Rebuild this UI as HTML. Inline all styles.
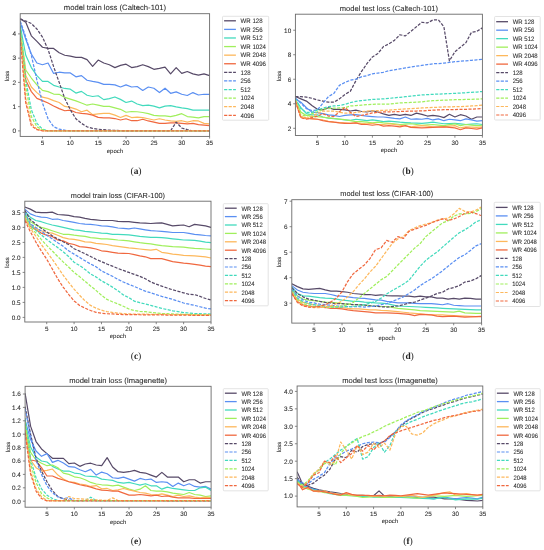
<!DOCTYPE html><html><head><meta charset="utf-8"><style>html,body{margin:0;padding:0;background:#fff;width:544px;height:550px;overflow:hidden}svg{display:block;will-change:transform}text{text-rendering:geometricPrecision;font-family:"Liberation Sans",sans-serif;fill:#2a2a2a;stroke:#2a2a2a;stroke-width:0.07px}text.cap{font-family:"Liberation Serif",serif;stroke:none;fill:#222}</style></head><body>
<svg width="544" height="550" viewBox="0 0 544 550">
<rect width="544" height="550" fill="#fff"/>
<clipPath id="clipa"><rect x="20.20" y="13.70" width="189.40" height="122.70"/></clipPath>
<g clip-path="url(#clipa)" fill="none" stroke-linejoin="round">
<polyline points="20.20,18.87 25.77,22.26 31.34,35.84 36.91,41.42 42.48,47.24 48.05,48.45 53.62,48.45 59.19,52.81 64.76,55.24 70.34,56.21 75.91,57.42 81.48,57.42 87.05,59.61 92.62,66.39 98.19,60.09 103.76,63.00 109.33,64.70 114.90,67.61 120.47,65.42 126.04,64.21 131.61,67.61 137.18,66.64 142.75,64.70 148.32,66.64 153.89,69.31 159.46,68.34 165.04,67.12 170.61,73.91 176.18,67.61 181.75,73.43 187.32,71.49 192.89,73.91 198.46,75.12 204.03,73.91 209.60,75.61" stroke="#574a68" stroke-width="1.20"/>
<polyline points="20.20,22.26 25.77,39.24 31.34,54.03 36.91,63.00 42.48,64.70 48.05,63.00 53.62,73.43 59.19,72.22 64.76,72.94 70.34,72.94 75.91,76.82 81.48,75.61 87.05,80.22 92.62,81.43 98.19,82.40 103.76,84.34 109.33,84.34 114.90,84.83 120.47,87.01 126.04,84.83 131.61,87.01 137.18,86.52 142.75,90.40 148.32,87.01 153.89,88.22 159.46,92.59 165.04,88.22 170.61,93.31 176.18,91.86 181.75,94.28 187.32,95.50 192.89,92.59 198.46,95.01 204.03,94.28 209.60,94.28" stroke="#5a8ff2" stroke-width="1.20"/>
<polyline points="20.20,25.66 25.77,55.24 31.34,67.61 36.91,75.61 42.48,81.43 48.05,81.43 53.62,85.31 59.19,87.01 64.76,88.46 70.34,89.19 75.91,93.07 81.48,91.37 87.05,95.25 92.62,96.47 98.19,95.74 103.76,99.62 109.33,98.65 114.90,96.95 120.47,99.38 126.04,102.53 131.61,101.07 137.18,103.98 142.75,105.68 148.32,105.20 153.89,106.17 159.46,107.86 165.04,106.17 170.61,105.68 176.18,106.89 181.75,107.86 187.32,108.59 192.89,110.05 198.46,110.05 204.03,110.05 209.60,110.05" stroke="#42dabd" stroke-width="1.20"/>
<polyline points="20.20,29.05 25.77,70.03 31.34,78.03 36.91,84.83 42.48,90.40 48.05,91.62 53.62,94.04 59.19,94.28 64.76,97.44 70.34,99.13 75.91,100.83 81.48,103.01 87.05,105.20 92.62,103.98 98.19,105.20 103.76,106.41 109.33,106.41 114.90,107.86 120.47,109.32 126.04,112.23 131.61,111.50 137.18,111.74 142.75,112.47 148.32,113.68 153.89,115.38 159.46,115.87 165.04,115.87 170.61,116.59 176.18,115.38 181.75,113.68 187.32,116.59 192.89,117.08 198.46,117.81 204.03,116.59 209.60,116.59" stroke="#a0ef5c" stroke-width="1.20"/>
<polyline points="20.20,31.48 25.77,75.61 31.34,87.01 36.91,92.59 42.48,97.19 48.05,98.41 53.62,100.59 59.19,102.53 64.76,106.41 70.34,107.38 75.91,109.08 81.48,111.74 87.05,110.17 92.62,114.65 98.19,113.93 103.76,113.44 109.33,113.44 114.90,115.14 120.47,117.56 126.04,115.38 131.61,117.56 137.18,117.08 142.75,117.56 148.32,118.78 153.89,119.99 159.46,118.78 165.04,119.99 170.61,120.96 176.18,121.44 181.75,120.72 187.32,122.17 192.89,120.72 198.46,120.96 204.03,123.38 209.60,123.87" stroke="#fdb85c" stroke-width="1.20"/>
<polyline points="20.20,37.05 25.77,80.22 31.34,91.62 36.91,98.41 42.48,100.59 48.05,103.01 53.62,105.92 59.19,108.59 64.76,110.77 70.34,110.17 75.91,112.47 81.48,113.44 87.05,113.93 92.62,115.14 98.19,117.32 103.76,117.81 109.33,117.81 114.90,118.53 120.47,119.99 126.04,118.78 131.61,120.72 137.18,120.72 142.75,119.26 148.32,120.96 153.89,122.17 159.46,123.38 165.04,123.38 170.61,122.90 176.18,122.90 181.75,123.38 187.32,123.87 192.89,123.38 198.46,124.59 204.03,125.08 209.60,125.57" stroke="#f0683f" stroke-width="1.20"/>
<polyline points="20.20,18.87 25.77,21.05 31.34,23.47 36.91,29.05 42.48,37.05 48.05,49.42 53.62,66.64 59.19,82.40 64.76,98.41 70.34,109.80 75.91,118.78 81.48,123.38 87.05,126.78 92.62,128.47 98.19,129.20 103.76,129.69 109.33,130.17 114.90,130.39 120.47,130.61 126.04,130.83 131.61,130.83 137.18,130.83 142.75,130.83 148.32,130.83 153.89,130.83 159.46,130.83 165.04,130.83 170.61,130.83 176.18,122.17 181.75,127.99 187.32,129.69 192.89,130.83 198.46,130.83 204.03,130.83 209.60,130.83" stroke="#574a68" stroke-width="1.25" stroke-dasharray="3.1 1.4"/>
<polyline points="20.20,21.05 25.77,37.05 31.34,55.24 36.91,80.22 42.48,103.01 48.05,118.78 53.62,126.78 59.19,129.20 64.76,130.17 70.34,130.83 75.91,130.83 81.48,130.83 87.05,130.83 92.62,130.83 98.19,130.83 103.76,130.83 109.33,130.83 114.90,130.83 120.47,130.83 126.04,130.83 131.61,130.83 137.18,130.83 142.75,130.83 148.32,130.83 153.89,130.83 159.46,130.83 165.04,130.83 170.61,130.83 176.18,130.83 181.75,130.83 187.32,130.83 192.89,130.83 198.46,130.83 204.03,130.83 209.60,130.83" stroke="#5a8ff2" stroke-width="1.25" stroke-dasharray="3.1 1.4"/>
<polyline points="20.20,25.66 25.77,80.22 31.34,109.80 36.91,123.38 42.48,129.20 48.05,130.83 53.62,130.83 59.19,130.83 64.76,130.83 70.34,130.83 75.91,130.83 81.48,130.83 87.05,130.83 92.62,130.83 98.19,130.83 103.76,130.83 109.33,130.83 114.90,130.83 120.47,130.83 126.04,130.83 131.61,130.83 137.18,130.83 142.75,130.83 148.32,130.83 153.89,130.83 159.46,130.83 165.04,130.83 170.61,130.83 176.18,130.83 181.75,130.83 187.32,130.83 192.89,130.83 198.46,130.83 204.03,130.83 209.60,130.83" stroke="#42dabd" stroke-width="1.25" stroke-dasharray="3.1 1.4"/>
<polyline points="20.20,30.26 25.77,87.01 31.34,116.59 36.91,126.78 42.48,129.69 48.05,130.83 53.62,130.83 59.19,130.83 64.76,130.83 70.34,130.83 75.91,130.83 81.48,130.83 87.05,130.83 92.62,130.83 98.19,130.83 103.76,130.83 109.33,130.83 114.90,130.83 120.47,130.83 126.04,130.83 131.61,130.83 137.18,130.83 142.75,130.83 148.32,130.83 153.89,130.83 159.46,130.83 165.04,130.83 170.61,130.83 176.18,130.83 181.75,130.83 187.32,130.83 192.89,130.83 198.46,130.83 204.03,130.83 209.60,130.83" stroke="#a0ef5c" stroke-width="1.25" stroke-dasharray="3.1 1.4"/>
<polyline points="20.20,34.87 25.77,98.41 31.34,123.38 36.91,129.20 42.48,130.83 48.05,130.83 53.62,130.83 59.19,130.83 64.76,130.83 70.34,130.83 75.91,130.83 81.48,130.83 87.05,130.83 92.62,130.83 98.19,130.83 103.76,130.83 109.33,130.83 114.90,130.83 120.47,130.83 126.04,130.83 131.61,130.83 137.18,130.83 142.75,130.83 148.32,130.83 153.89,130.83 159.46,130.83 165.04,130.83 170.61,130.83 176.18,130.83 181.75,130.83 187.32,130.83 192.89,130.83 198.46,130.83 204.03,130.83 209.60,130.83" stroke="#fdb85c" stroke-width="1.25" stroke-dasharray="3.1 1.4"/>
<polyline points="20.20,38.27 25.77,103.01 31.34,125.57 36.91,129.69 42.48,130.83 48.05,130.83 53.62,130.83 59.19,130.83 64.76,130.83 70.34,130.83 75.91,130.83 81.48,130.83 87.05,130.83 92.62,130.83 98.19,130.83 103.76,130.83 109.33,130.83 114.90,130.83 120.47,130.83 126.04,130.83 131.61,130.83 137.18,130.83 142.75,130.83 148.32,130.83 153.89,130.83 159.46,130.83 165.04,130.83 170.61,130.83 176.18,130.83 181.75,130.83 187.32,130.83 192.89,130.83 198.46,130.83 204.03,130.83 209.60,130.83" stroke="#f0683f" stroke-width="1.25" stroke-dasharray="3.1 1.4"/>
</g>
<rect x="20.20" y="13.70" width="189.40" height="122.70" fill="none" stroke="#6a6a6a" stroke-width="0.90"/>
<line x1="42.48" y1="136.40" x2="42.48" y2="138.60" stroke="#6a6a6a" stroke-width="0.8"/>
<text x="42.48" y="145.40" font-size="6.30" text-anchor="middle">5</text>
<line x1="70.34" y1="136.40" x2="70.34" y2="138.60" stroke="#6a6a6a" stroke-width="0.8"/>
<text x="70.34" y="145.40" font-size="6.30" text-anchor="middle">10</text>
<line x1="98.19" y1="136.40" x2="98.19" y2="138.60" stroke="#6a6a6a" stroke-width="0.8"/>
<text x="98.19" y="145.40" font-size="6.30" text-anchor="middle">15</text>
<line x1="126.04" y1="136.40" x2="126.04" y2="138.60" stroke="#6a6a6a" stroke-width="0.8"/>
<text x="126.04" y="145.40" font-size="6.30" text-anchor="middle">20</text>
<line x1="153.89" y1="136.40" x2="153.89" y2="138.60" stroke="#6a6a6a" stroke-width="0.8"/>
<text x="153.89" y="145.40" font-size="6.30" text-anchor="middle">25</text>
<line x1="181.75" y1="136.40" x2="181.75" y2="138.60" stroke="#6a6a6a" stroke-width="0.8"/>
<text x="181.75" y="145.40" font-size="6.30" text-anchor="middle">30</text>
<line x1="209.60" y1="136.40" x2="209.60" y2="138.60" stroke="#6a6a6a" stroke-width="0.8"/>
<text x="209.60" y="145.40" font-size="6.30" text-anchor="middle">35</text>
<line x1="18.00" y1="130.90" x2="20.20" y2="130.90" stroke="#6a6a6a" stroke-width="0.8"/>
<text x="16.00" y="133.20" font-size="6.40" text-anchor="end">0</text>
<line x1="18.00" y1="106.65" x2="20.20" y2="106.65" stroke="#6a6a6a" stroke-width="0.8"/>
<text x="16.00" y="108.95" font-size="6.40" text-anchor="end">1</text>
<line x1="18.00" y1="82.40" x2="20.20" y2="82.40" stroke="#6a6a6a" stroke-width="0.8"/>
<text x="16.00" y="84.70" font-size="6.40" text-anchor="end">2</text>
<line x1="18.00" y1="58.15" x2="20.20" y2="58.15" stroke="#6a6a6a" stroke-width="0.8"/>
<text x="16.00" y="60.45" font-size="6.40" text-anchor="end">3</text>
<line x1="18.00" y1="33.90" x2="20.20" y2="33.90" stroke="#6a6a6a" stroke-width="0.8"/>
<text x="16.00" y="36.20" font-size="6.40" text-anchor="end">4</text>
<text x="114.90" y="152.80" font-size="6.00" text-anchor="middle">epoch</text>
<text transform="translate(7.30 76.00) rotate(-90)" x="0" y="2.10" font-size="5.90" text-anchor="middle">loss</text>
<text x="114.90" y="10.30" font-size="7.66" text-anchor="middle">model train loss (Caltech-101)</text>
<rect x="222.50" y="16.30" width="46.20" height="103.90" rx="0.8" fill="#fff" stroke="#dcdcdc" stroke-width="0.8"/>
<line x1="224.10" y1="20.80" x2="235.90" y2="20.80" stroke="#574a68" stroke-width="1.30"/>
<text transform="translate(240.60 23.10) scale(0.930 1)" font-size="6.55">WR 128</text>
<line x1="224.10" y1="29.39" x2="235.90" y2="29.39" stroke="#5a8ff2" stroke-width="1.30"/>
<text transform="translate(240.60 31.69) scale(0.930 1)" font-size="6.55">WR 256</text>
<line x1="224.10" y1="37.98" x2="235.90" y2="37.98" stroke="#42dabd" stroke-width="1.30"/>
<text transform="translate(240.60 40.28) scale(0.930 1)" font-size="6.55">WR 512</text>
<line x1="224.10" y1="46.57" x2="235.90" y2="46.57" stroke="#a0ef5c" stroke-width="1.30"/>
<text transform="translate(240.60 48.87) scale(0.930 1)" font-size="6.55">WR 1024</text>
<line x1="224.10" y1="55.16" x2="235.90" y2="55.16" stroke="#fdb85c" stroke-width="1.30"/>
<text transform="translate(240.60 57.46) scale(0.930 1)" font-size="6.55">WR 2048</text>
<line x1="224.10" y1="63.75" x2="235.90" y2="63.75" stroke="#f0683f" stroke-width="1.30"/>
<text transform="translate(240.60 66.05) scale(0.930 1)" font-size="6.55">WR 4096</text>
<line x1="224.10" y1="72.35" x2="235.90" y2="72.35" stroke="#574a68" stroke-width="1.20" stroke-dasharray="3.2 1.3"/>
<text transform="translate(240.60 74.65) scale(0.930 1)" font-size="6.55">128</text>
<line x1="224.10" y1="80.94" x2="235.90" y2="80.94" stroke="#5a8ff2" stroke-width="1.20" stroke-dasharray="3.2 1.3"/>
<text transform="translate(240.60 83.24) scale(0.930 1)" font-size="6.55">256</text>
<line x1="224.10" y1="89.53" x2="235.90" y2="89.53" stroke="#42dabd" stroke-width="1.20" stroke-dasharray="3.2 1.3"/>
<text transform="translate(240.60 91.83) scale(0.930 1)" font-size="6.55">512</text>
<line x1="224.10" y1="98.12" x2="235.90" y2="98.12" stroke="#a0ef5c" stroke-width="1.20" stroke-dasharray="3.2 1.3"/>
<text transform="translate(240.60 100.42) scale(0.930 1)" font-size="6.55">1024</text>
<line x1="224.10" y1="106.71" x2="235.90" y2="106.71" stroke="#fdb85c" stroke-width="1.20" stroke-dasharray="3.2 1.3"/>
<text transform="translate(240.60 109.01) scale(0.930 1)" font-size="6.55">2048</text>
<line x1="224.10" y1="115.30" x2="235.90" y2="115.30" stroke="#f0683f" stroke-width="1.20" stroke-dasharray="3.2 1.3"/>
<text transform="translate(240.60 117.60) scale(0.930 1)" font-size="6.55">4096</text>
<text class="cap" x="136.00" y="173.50" font-size="9.80" text-anchor="middle">(<tspan font-weight="bold" font-size="9.40">a</tspan>)</text>
<clipPath id="clipb"><rect x="295.40" y="14.20" width="187.00" height="121.30"/></clipPath>
<g clip-path="url(#clipb)" fill="none" stroke-linejoin="round">
<polyline points="295.40,96.55 300.90,98.88 306.40,101.08 311.90,105.50 317.40,109.30 322.90,109.91 328.40,107.70 333.90,109.30 339.40,109.30 344.90,109.91 350.40,111.01 355.90,110.16 361.40,111.50 366.90,111.99 372.40,110.77 377.90,111.99 383.40,113.83 388.90,115.43 394.40,114.32 399.90,115.43 405.40,114.32 410.90,115.43 416.40,113.10 421.90,114.32 427.40,116.04 432.90,115.43 438.40,116.04 443.90,117.63 449.40,114.32 454.90,117.02 460.40,114.69 465.90,116.04 471.40,119.23 476.90,117.02 482.40,117.02" stroke="#574a68" stroke-width="1.20"/>
<polyline points="295.40,98.88 300.90,102.19 306.40,107.70 311.90,112.12 317.40,112.61 322.90,113.71 328.40,114.81 333.90,115.43 339.40,116.53 344.90,115.43 350.40,114.81 355.90,114.69 361.40,115.43 366.90,116.04 372.40,116.53 377.90,117.02 383.40,117.02 388.90,117.63 394.40,118.37 399.90,118.86 405.40,117.02 410.90,119.23 416.40,118.86 421.90,119.23 427.40,118.37 432.90,119.96 438.40,118.86 443.90,120.70 449.40,119.23 454.90,119.96 460.40,120.70 465.90,118.86 471.40,119.96 476.90,121.07 482.40,120.70" stroke="#5a8ff2" stroke-width="1.20"/>
<polyline points="295.40,99.98 300.90,107.70 306.40,113.71 311.90,114.81 317.40,114.81 322.90,117.02 328.40,118.12 333.90,118.61 339.40,119.23 344.90,119.84 350.40,120.33 355.90,119.23 361.40,119.96 366.90,120.70 372.40,119.96 377.90,120.70 383.40,121.56 388.90,121.07 394.40,121.62 399.90,122.17 405.40,122.54 410.90,122.91 416.40,123.15 421.90,123.40 427.40,122.78 432.90,122.17 438.40,122.97 443.90,123.76 449.40,123.58 454.90,123.40 460.40,123.95 465.90,124.50 471.40,124.13 476.90,123.76 482.40,124.50" stroke="#42dabd" stroke-width="1.20"/>
<polyline points="295.40,100.47 300.90,112.12 306.40,115.43 311.90,116.29 317.40,116.65 322.90,117.27 328.40,117.88 333.90,118.49 339.40,119.11 344.90,119.72 350.40,120.70 355.90,121.56 361.40,121.56 366.90,122.17 372.40,122.91 377.90,122.17 383.40,122.91 388.90,123.40 394.40,123.95 399.90,124.50 405.40,124.13 410.90,123.76 416.40,124.50 421.90,125.24 427.40,124.87 432.90,124.50 438.40,125.05 443.90,125.60 449.40,124.68 454.90,123.76 460.40,125.60 465.90,124.50 471.40,125.05 476.90,125.60 482.40,125.24" stroke="#a0ef5c" stroke-width="1.20"/>
<polyline points="295.40,100.59 300.90,116.65 306.40,117.88 311.90,118.49 317.40,119.23 322.90,119.96 328.40,121.43 333.90,122.17 339.40,122.54 344.90,122.91 350.40,123.40 355.90,122.91 361.40,123.40 366.90,123.76 372.40,123.40 377.90,124.50 383.40,124.50 388.90,123.76 394.40,124.50 399.90,125.24 405.40,126.03 410.90,126.83 416.40,126.22 421.90,125.60 427.40,126.22 432.90,126.83 438.40,126.83 443.90,126.83 449.40,126.22 454.90,125.60 460.40,127.93 465.90,126.83 471.40,127.14 476.90,127.44 482.40,126.83" stroke="#fdb85c" stroke-width="1.20"/>
<polyline points="295.40,101.08 300.90,117.27 306.40,118.49 311.90,118.86 317.40,119.23 322.90,120.70 328.40,121.56 333.90,122.17 339.40,122.91 344.90,123.40 350.40,123.40 355.90,122.91 361.40,124.50 366.90,124.50 372.40,125.24 377.90,124.50 383.40,126.09 388.90,125.60 394.40,126.22 399.90,126.83 405.40,125.60 410.90,127.44 416.40,127.69 421.90,127.93 427.40,127.69 432.90,127.44 438.40,127.14 443.90,126.83 449.40,127.38 454.90,127.93 460.40,129.77 465.90,127.93 471.40,128.48 476.90,129.04 482.40,127.93" stroke="#f0683f" stroke-width="1.20"/>
<polyline points="295.40,96.55 300.90,96.67 306.40,97.16 311.90,98.26 317.40,99.98 322.90,101.08 328.40,102.19 333.90,102.19 339.40,98.88 344.90,94.46 350.40,91.15 355.90,80.73 361.40,71.66 366.90,63.69 372.40,56.95 377.90,53.51 383.40,46.65 388.90,43.83 394.40,40.40 399.90,34.76 405.40,35.86 410.90,31.32 416.40,26.79 421.90,22.25 427.40,22.99 432.90,19.92 438.40,19.92 443.90,26.79 449.40,60.87 454.90,51.80 460.40,47.26 465.90,42.73 471.40,32.43 476.90,31.32 482.40,27.89" stroke="#574a68" stroke-width="1.25" stroke-dasharray="3.1 1.4"/>
<polyline points="295.40,98.26 300.90,103.17 306.40,108.68 311.90,110.52 317.40,109.91 322.90,103.17 328.40,96.67 333.90,93.36 339.40,85.39 344.90,82.45 350.40,80.24 355.90,79.14 361.40,76.81 366.90,75.70 372.40,73.87 377.90,73.01 383.40,72.27 388.90,70.68 394.40,69.76 399.90,68.84 405.40,67.92 410.90,67.00 416.40,66.20 421.90,65.41 427.40,64.61 432.90,63.81 438.40,63.51 443.90,63.20 449.40,62.40 454.90,61.61 460.40,61.24 465.90,60.87 471.40,60.32 476.90,59.77 482.40,59.28" stroke="#5a8ff2" stroke-width="1.25" stroke-dasharray="3.1 1.4"/>
<polyline points="295.40,98.88 300.90,108.68 306.40,112.36 311.90,112.36 317.40,109.91 322.90,108.07 328.40,106.60 333.90,105.99 339.40,105.50 344.90,104.39 350.40,102.68 355.90,101.33 361.40,100.59 366.90,100.10 372.40,99.49 377.90,99.12 383.40,98.88 388.90,98.39 394.40,97.83 399.90,97.28 405.40,96.73 410.90,96.18 416.40,95.57 421.90,94.95 427.40,94.65 432.90,94.34 438.40,94.09 443.90,93.85 449.40,93.60 454.90,93.36 460.40,93.05 465.90,92.75 471.40,92.38 476.90,92.01 482.40,91.52" stroke="#42dabd" stroke-width="1.25" stroke-dasharray="3.1 1.4"/>
<polyline points="295.40,99.49 300.90,114.81 306.40,116.04 311.90,113.71 317.40,111.75 322.90,109.30 328.40,108.68 333.90,108.19 339.40,107.95 344.90,107.70 350.40,105.99 355.90,105.62 361.40,105.13 366.90,104.64 372.40,104.39 377.90,104.15 383.40,104.03 388.90,104.03 394.40,103.47 399.90,102.92 405.40,102.68 410.90,102.43 416.40,102.12 421.90,101.82 427.40,101.21 432.90,100.59 438.40,100.41 443.90,100.22 449.40,99.98 454.90,99.73 460.40,99.61 465.90,99.49 471.40,99.31 476.90,99.12 482.40,98.88" stroke="#a0ef5c" stroke-width="1.25" stroke-dasharray="3.1 1.4"/>
<polyline points="295.40,100.10 300.90,116.65 306.40,118.49 311.90,116.04 317.40,113.59 322.90,111.01 328.40,111.01 333.90,111.01 339.40,112.36 344.90,113.22 350.40,113.22 355.90,112.36 361.40,111.75 366.90,111.14 372.40,110.77 377.90,110.52 383.40,110.40 388.90,110.16 394.40,109.73 399.90,109.30 405.40,108.99 410.90,108.68 416.40,108.32 421.90,107.95 427.40,107.70 432.90,107.46 438.40,107.21 443.90,106.97 449.40,106.85 454.90,106.72 460.40,106.54 465.90,106.35 471.40,105.99 476.90,105.62 482.40,105.13" stroke="#fdb85c" stroke-width="1.25" stroke-dasharray="3.1 1.4"/>
<polyline points="295.40,101.33 300.90,117.88 306.40,119.23 311.90,117.63 317.40,116.04 322.90,113.71 328.40,116.04 333.90,116.53 339.40,111.75 344.90,107.46 350.40,112.36 355.90,116.41 361.40,115.43 366.90,114.20 372.40,112.98 377.90,112.36 383.40,111.99 388.90,111.99 394.40,111.75 399.90,111.50 405.40,111.32 410.90,111.14 416.40,111.01 421.90,110.89 427.40,110.52 432.90,110.16 438.40,109.91 443.90,109.66 449.40,109.60 454.90,109.54 460.40,109.42 465.90,109.30 471.40,109.11 476.90,108.93 482.40,108.56" stroke="#f0683f" stroke-width="1.25" stroke-dasharray="3.1 1.4"/>
</g>
<rect x="295.40" y="14.20" width="187.00" height="121.30" fill="none" stroke="#6a6a6a" stroke-width="0.90"/>
<line x1="317.40" y1="135.50" x2="317.40" y2="137.70" stroke="#6a6a6a" stroke-width="0.8"/>
<text x="317.40" y="144.50" font-size="6.30" text-anchor="middle">5</text>
<line x1="344.90" y1="135.50" x2="344.90" y2="137.70" stroke="#6a6a6a" stroke-width="0.8"/>
<text x="344.90" y="144.50" font-size="6.30" text-anchor="middle">10</text>
<line x1="372.40" y1="135.50" x2="372.40" y2="137.70" stroke="#6a6a6a" stroke-width="0.8"/>
<text x="372.40" y="144.50" font-size="6.30" text-anchor="middle">15</text>
<line x1="399.90" y1="135.50" x2="399.90" y2="137.70" stroke="#6a6a6a" stroke-width="0.8"/>
<text x="399.90" y="144.50" font-size="6.30" text-anchor="middle">20</text>
<line x1="427.40" y1="135.50" x2="427.40" y2="137.70" stroke="#6a6a6a" stroke-width="0.8"/>
<text x="427.40" y="144.50" font-size="6.30" text-anchor="middle">25</text>
<line x1="454.90" y1="135.50" x2="454.90" y2="137.70" stroke="#6a6a6a" stroke-width="0.8"/>
<text x="454.90" y="144.50" font-size="6.30" text-anchor="middle">30</text>
<line x1="482.40" y1="135.50" x2="482.40" y2="137.70" stroke="#6a6a6a" stroke-width="0.8"/>
<text x="482.40" y="144.50" font-size="6.30" text-anchor="middle">35</text>
<line x1="293.20" y1="128.30" x2="295.40" y2="128.30" stroke="#6a6a6a" stroke-width="0.8"/>
<text x="291.20" y="130.60" font-size="6.40" text-anchor="end">2</text>
<line x1="293.20" y1="103.78" x2="295.40" y2="103.78" stroke="#6a6a6a" stroke-width="0.8"/>
<text x="291.20" y="106.08" font-size="6.40" text-anchor="end">4</text>
<line x1="293.20" y1="79.26" x2="295.40" y2="79.26" stroke="#6a6a6a" stroke-width="0.8"/>
<text x="291.20" y="81.56" font-size="6.40" text-anchor="end">6</text>
<line x1="293.20" y1="54.74" x2="295.40" y2="54.74" stroke="#6a6a6a" stroke-width="0.8"/>
<text x="291.20" y="57.04" font-size="6.40" text-anchor="end">8</text>
<line x1="293.20" y1="30.22" x2="295.40" y2="30.22" stroke="#6a6a6a" stroke-width="0.8"/>
<text x="291.20" y="32.52" font-size="6.40" text-anchor="end">10</text>
<text x="388.90" y="151.90" font-size="6.00" text-anchor="middle">epoch</text>
<text transform="translate(279.10 76.00) rotate(-90)" x="0" y="2.10" font-size="5.90" text-anchor="middle">loss</text>
<text x="388.90" y="10.80" font-size="7.57" text-anchor="middle">model test loss (Caltech-101)</text>
<rect x="494.60" y="16.50" width="45.60" height="103.50" rx="0.8" fill="#fff" stroke="#dcdcdc" stroke-width="0.8"/>
<line x1="496.20" y1="21.70" x2="508.00" y2="21.70" stroke="#574a68" stroke-width="1.30"/>
<text transform="translate(512.70 24.00) scale(0.930 1)" font-size="6.45">WR 128</text>
<line x1="496.20" y1="30.18" x2="508.00" y2="30.18" stroke="#5a8ff2" stroke-width="1.30"/>
<text transform="translate(512.70 32.48) scale(0.930 1)" font-size="6.45">WR 256</text>
<line x1="496.20" y1="38.66" x2="508.00" y2="38.66" stroke="#42dabd" stroke-width="1.30"/>
<text transform="translate(512.70 40.96) scale(0.930 1)" font-size="6.45">WR 512</text>
<line x1="496.20" y1="47.15" x2="508.00" y2="47.15" stroke="#a0ef5c" stroke-width="1.30"/>
<text transform="translate(512.70 49.45) scale(0.930 1)" font-size="6.45">WR 1024</text>
<line x1="496.20" y1="55.63" x2="508.00" y2="55.63" stroke="#fdb85c" stroke-width="1.30"/>
<text transform="translate(512.70 57.93) scale(0.930 1)" font-size="6.45">WR 2048</text>
<line x1="496.20" y1="64.11" x2="508.00" y2="64.11" stroke="#f0683f" stroke-width="1.30"/>
<text transform="translate(512.70 66.41) scale(0.930 1)" font-size="6.45">WR 4096</text>
<line x1="496.20" y1="72.59" x2="508.00" y2="72.59" stroke="#574a68" stroke-width="1.20" stroke-dasharray="3.2 1.3"/>
<text transform="translate(512.70 74.89) scale(0.930 1)" font-size="6.45">128</text>
<line x1="496.20" y1="81.07" x2="508.00" y2="81.07" stroke="#5a8ff2" stroke-width="1.20" stroke-dasharray="3.2 1.3"/>
<text transform="translate(512.70 83.37) scale(0.930 1)" font-size="6.45">256</text>
<line x1="496.20" y1="89.55" x2="508.00" y2="89.55" stroke="#42dabd" stroke-width="1.20" stroke-dasharray="3.2 1.3"/>
<text transform="translate(512.70 91.85) scale(0.930 1)" font-size="6.45">512</text>
<line x1="496.20" y1="98.04" x2="508.00" y2="98.04" stroke="#a0ef5c" stroke-width="1.20" stroke-dasharray="3.2 1.3"/>
<text transform="translate(512.70 100.34) scale(0.930 1)" font-size="6.45">1024</text>
<line x1="496.20" y1="106.52" x2="508.00" y2="106.52" stroke="#fdb85c" stroke-width="1.20" stroke-dasharray="3.2 1.3"/>
<text transform="translate(512.70 108.82) scale(0.930 1)" font-size="6.45">2048</text>
<line x1="496.20" y1="115.00" x2="508.00" y2="115.00" stroke="#f0683f" stroke-width="1.20" stroke-dasharray="3.2 1.3"/>
<text transform="translate(512.70 117.30) scale(0.930 1)" font-size="6.45">4096</text>
<text class="cap" x="408.00" y="173.50" font-size="9.80" text-anchor="middle">(<tspan font-weight="bold" font-size="9.40">b</tspan>)</text>
<clipPath id="clipc"><rect x="24.80" y="201.20" width="186.20" height="120.80"/></clipPath>
<g clip-path="url(#clipc)" fill="none" stroke-linejoin="round">
<polyline points="24.80,207.00 30.28,209.10 35.75,212.10 41.23,212.70 46.71,212.70 52.18,212.10 57.66,214.50 63.14,214.80 68.61,215.40 74.09,216.60 79.56,217.20 85.04,218.40 90.52,219.30 95.99,219.90 101.47,220.50 106.95,220.50 112.42,220.50 117.90,221.40 123.38,221.55 128.85,221.70 134.33,222.30 139.81,222.90 145.28,223.20 150.76,223.50 156.24,223.20 161.71,222.90 167.19,224.40 172.66,225.90 178.14,225.45 183.62,225.00 189.09,226.80 194.57,224.40 200.05,225.15 205.52,225.90 211.00,227.40" stroke="#574a68" stroke-width="1.20"/>
<polyline points="24.80,209.10 30.28,213.90 35.75,216.00 41.23,217.20 46.71,217.50 52.18,219.30 57.66,219.00 63.14,220.50 68.61,221.40 74.09,222.30 79.56,223.50 85.04,224.10 90.52,224.40 95.99,225.00 101.47,225.90 106.95,226.20 112.42,226.80 117.90,228.00 123.38,228.45 128.85,228.90 134.33,228.00 139.81,228.90 145.28,229.80 150.76,230.70 156.24,231.00 161.71,231.30 167.19,231.90 172.66,232.50 178.14,232.50 183.62,232.50 189.09,233.40 194.57,234.30 200.05,234.90 205.52,235.50 211.00,235.80" stroke="#5a8ff2" stroke-width="1.20"/>
<polyline points="24.80,211.50 30.28,217.20 35.75,220.50 41.23,221.70 46.71,223.50 52.18,225.00 57.66,226.20 63.14,227.40 68.61,228.60 74.09,229.80 79.56,230.40 85.04,231.30 90.52,231.90 95.99,232.50 101.47,233.10 106.95,233.40 112.42,234.30 117.90,234.30 123.38,234.60 128.85,234.90 134.33,235.65 139.81,236.40 145.28,236.85 150.76,237.30 156.24,237.45 161.71,237.60 167.19,238.20 172.66,238.80 178.14,239.40 183.62,240.00 189.09,240.15 194.57,240.30 200.05,241.20 205.52,242.10 211.00,242.70" stroke="#42dabd" stroke-width="1.20"/>
<polyline points="24.80,213.90 30.28,221.40 35.75,225.00 41.23,227.40 46.71,228.90 52.18,230.70 57.66,232.50 63.14,234.30 68.61,234.30 74.09,235.20 79.56,235.80 85.04,236.40 90.52,237.60 95.99,238.20 101.47,238.80 106.95,238.80 112.42,239.40 117.90,240.00 123.38,240.45 128.85,240.90 134.33,241.80 139.81,242.70 145.28,243.30 150.76,243.90 156.24,244.80 161.71,245.70 167.19,246.15 172.66,246.60 178.14,246.90 183.62,247.20 189.09,247.80 194.57,248.40 200.05,248.70 205.52,249.00 211.00,249.30" stroke="#a0ef5c" stroke-width="1.20"/>
<polyline points="24.80,217.20 30.28,224.10 35.75,228.60 41.23,230.70 46.71,232.50 52.18,233.10 57.66,235.20 63.14,237.60 68.61,238.80 74.09,239.40 79.56,240.30 85.04,241.80 90.52,242.10 95.99,243.30 101.47,243.90 106.95,244.50 112.42,245.70 117.90,246.30 123.38,247.05 128.85,247.80 134.33,248.40 139.81,249.00 145.28,249.60 150.76,250.20 156.24,249.30 161.71,252.30 167.19,253.20 172.66,254.10 178.14,254.70 183.62,255.30 189.09,255.60 194.57,255.90 200.05,256.35 205.52,256.80 211.00,258.00" stroke="#fdb85c" stroke-width="1.20"/>
<polyline points="24.80,220.50 30.28,226.20 35.75,229.80 41.23,233.10 46.71,235.20 52.18,236.40 57.66,240.00 63.14,240.90 68.61,243.30 74.09,244.50 79.56,246.60 85.04,247.20 90.52,247.80 95.99,249.00 101.47,250.80 106.95,251.40 112.42,252.30 117.90,253.20 123.38,253.35 128.85,253.50 134.33,254.70 139.81,255.90 145.28,256.80 150.76,258.60 156.24,258.60 161.71,258.60 167.19,260.10 172.66,261.60 178.14,262.35 183.62,263.10 189.09,263.70 194.57,264.30 200.05,265.20 205.52,266.10 211.00,266.70" stroke="#f0683f" stroke-width="1.20"/>
<polyline points="24.80,210.30 30.28,219.60 35.75,224.10 41.23,228.30 46.71,231.90 52.18,235.80 57.66,238.80 63.14,241.80 68.61,244.50 74.09,248.70 79.56,251.10 85.04,253.80 90.52,256.50 95.99,259.20 101.47,261.60 106.95,264.00 112.42,266.10 117.90,268.50 123.38,270.45 128.85,272.40 134.33,274.35 139.81,276.30 145.28,278.70 150.76,282.00 156.24,284.10 161.71,286.20 167.19,288.00 172.66,289.80 178.14,291.30 183.62,292.80 189.09,294.30 194.57,294.60 200.05,296.40 205.52,298.50 211.00,300.00" stroke="#574a68" stroke-width="1.25" stroke-dasharray="3.1 1.4"/>
<polyline points="24.80,212.70 30.28,223.80 35.75,227.40 41.23,231.00 46.71,235.20 52.18,238.80 57.66,242.70 63.14,246.30 68.61,250.80 74.09,254.10 79.56,257.40 85.04,260.70 90.52,264.00 95.99,266.70 101.47,270.90 106.95,273.60 112.42,276.30 117.90,279.30 123.38,282.00 128.85,284.40 134.33,286.50 139.81,288.90 145.28,291.15 150.76,292.80 156.24,294.60 161.71,296.40 167.19,297.90 172.66,299.40 178.14,301.20 183.62,303.00 189.09,304.20 194.57,305.40 200.05,306.75 205.52,308.10 211.00,309.00" stroke="#5a8ff2" stroke-width="1.25" stroke-dasharray="3.1 1.4"/>
<polyline points="24.80,214.80 30.28,225.00 35.75,230.10 41.23,234.90 46.71,239.40 52.18,243.60 57.66,247.50 63.14,251.70 68.61,256.50 74.09,262.20 79.56,265.50 85.04,269.40 90.52,273.90 95.99,276.90 101.47,280.80 106.95,283.80 112.42,287.10 117.90,290.70 123.38,294.90 128.85,297.60 134.33,301.20 139.81,302.70 145.28,303.90 150.76,305.40 156.24,306.90 161.71,308.40 167.19,309.60 172.66,310.80 178.14,311.70 183.62,312.60 189.09,313.05 194.57,313.50 200.05,313.70 205.52,313.90 211.00,314.10" stroke="#42dabd" stroke-width="1.25" stroke-dasharray="3.1 1.4"/>
<polyline points="24.80,216.00 30.28,227.40 35.75,232.80 41.23,239.40 46.71,245.40 52.18,250.80 57.66,256.50 63.14,261.90 68.61,267.00 74.09,272.40 79.56,276.60 85.04,281.40 90.52,285.90 95.99,290.40 101.47,295.20 106.95,299.40 112.42,301.80 117.90,303.90 123.38,306.30 128.85,309.00 134.33,310.50 139.81,311.40 145.28,311.70 150.76,312.30 156.24,312.90 161.71,313.50 167.19,313.72 172.66,313.95 178.14,314.17 183.62,314.40 189.09,314.46 194.57,314.52 200.05,314.58 205.52,314.64 211.00,314.70" stroke="#a0ef5c" stroke-width="1.25" stroke-dasharray="3.1 1.4"/>
<polyline points="24.80,218.40 30.28,228.30 35.75,236.10 41.23,244.50 46.71,251.70 52.18,259.20 57.66,267.00 63.14,275.10 68.61,282.30 74.09,289.20 79.56,295.20 85.04,300.90 90.52,305.40 95.99,308.10 101.47,310.20 106.95,311.70 112.42,312.45 117.90,313.05 123.38,313.65 128.85,313.88 134.33,314.10 139.81,314.16 145.28,314.23 150.76,314.29 156.24,314.36 161.71,314.42 167.19,314.49 172.66,314.55 178.14,314.61 183.62,314.68 189.09,314.74 194.57,314.81 200.05,314.87 205.52,314.94 211.00,315.00" stroke="#fdb85c" stroke-width="1.25" stroke-dasharray="3.1 1.4"/>
<polyline points="24.80,220.50 30.28,231.60 35.75,241.80 41.23,250.80 46.71,259.20 52.18,268.80 57.66,278.70 63.14,287.10 68.61,294.30 74.09,300.90 79.56,305.40 85.04,308.10 90.52,310.50 95.99,312.30 101.47,313.20 106.95,313.65 112.42,313.96 117.90,314.27 123.38,314.58 128.85,314.64 134.33,314.69 139.81,314.75 145.28,314.80 150.76,314.86 156.24,314.92 161.71,314.97 167.19,315.03 172.66,315.09 178.14,315.14 183.62,315.20 189.09,315.25 194.57,315.31 200.05,315.37 205.52,315.42 211.00,315.48" stroke="#f0683f" stroke-width="1.25" stroke-dasharray="3.1 1.4"/>
</g>
<rect x="24.80" y="201.20" width="186.20" height="120.80" fill="none" stroke="#6a6a6a" stroke-width="0.90"/>
<line x1="46.71" y1="322.00" x2="46.71" y2="324.20" stroke="#6a6a6a" stroke-width="0.8"/>
<text x="46.71" y="331.00" font-size="6.30" text-anchor="middle">5</text>
<line x1="74.09" y1="322.00" x2="74.09" y2="324.20" stroke="#6a6a6a" stroke-width="0.8"/>
<text x="74.09" y="331.00" font-size="6.30" text-anchor="middle">10</text>
<line x1="101.47" y1="322.00" x2="101.47" y2="324.20" stroke="#6a6a6a" stroke-width="0.8"/>
<text x="101.47" y="331.00" font-size="6.30" text-anchor="middle">15</text>
<line x1="128.85" y1="322.00" x2="128.85" y2="324.20" stroke="#6a6a6a" stroke-width="0.8"/>
<text x="128.85" y="331.00" font-size="6.30" text-anchor="middle">20</text>
<line x1="156.24" y1="322.00" x2="156.24" y2="324.20" stroke="#6a6a6a" stroke-width="0.8"/>
<text x="156.24" y="331.00" font-size="6.30" text-anchor="middle">25</text>
<line x1="183.62" y1="322.00" x2="183.62" y2="324.20" stroke="#6a6a6a" stroke-width="0.8"/>
<text x="183.62" y="331.00" font-size="6.30" text-anchor="middle">30</text>
<line x1="211.00" y1="322.00" x2="211.00" y2="324.20" stroke="#6a6a6a" stroke-width="0.8"/>
<text x="211.00" y="331.00" font-size="6.30" text-anchor="middle">35</text>
<line x1="22.60" y1="317.40" x2="24.80" y2="317.40" stroke="#6a6a6a" stroke-width="0.8"/>
<text x="20.60" y="319.70" font-size="6.40" text-anchor="end">0.0</text>
<line x1="22.60" y1="302.40" x2="24.80" y2="302.40" stroke="#6a6a6a" stroke-width="0.8"/>
<text x="20.60" y="304.70" font-size="6.40" text-anchor="end">0.5</text>
<line x1="22.60" y1="287.40" x2="24.80" y2="287.40" stroke="#6a6a6a" stroke-width="0.8"/>
<text x="20.60" y="289.70" font-size="6.40" text-anchor="end">1.0</text>
<line x1="22.60" y1="272.40" x2="24.80" y2="272.40" stroke="#6a6a6a" stroke-width="0.8"/>
<text x="20.60" y="274.70" font-size="6.40" text-anchor="end">1.5</text>
<line x1="22.60" y1="257.40" x2="24.80" y2="257.40" stroke="#6a6a6a" stroke-width="0.8"/>
<text x="20.60" y="259.70" font-size="6.40" text-anchor="end">2.0</text>
<line x1="22.60" y1="242.40" x2="24.80" y2="242.40" stroke="#6a6a6a" stroke-width="0.8"/>
<text x="20.60" y="244.70" font-size="6.40" text-anchor="end">2.5</text>
<line x1="22.60" y1="227.40" x2="24.80" y2="227.40" stroke="#6a6a6a" stroke-width="0.8"/>
<text x="20.60" y="229.70" font-size="6.40" text-anchor="end">3.0</text>
<line x1="22.60" y1="212.40" x2="24.80" y2="212.40" stroke="#6a6a6a" stroke-width="0.8"/>
<text x="20.60" y="214.70" font-size="6.40" text-anchor="end">3.5</text>
<text x="117.90" y="338.40" font-size="6.00" text-anchor="middle">epoch</text>
<text transform="translate(7.10 262.50) rotate(-90)" x="0" y="2.10" font-size="5.90" text-anchor="middle">loss</text>
<text x="117.90" y="197.80" font-size="7.30" text-anchor="middle">model train loss (CIFAR-100)</text>
<rect x="223.30" y="203.70" width="44.90" height="102.10" rx="0.8" fill="#fff" stroke="#dcdcdc" stroke-width="0.8"/>
<line x1="224.90" y1="208.20" x2="236.70" y2="208.20" stroke="#574a68" stroke-width="1.30"/>
<text transform="translate(241.40 210.50) scale(0.930 1)" font-size="6.34">WR 128</text>
<line x1="224.90" y1="216.60" x2="236.70" y2="216.60" stroke="#5a8ff2" stroke-width="1.30"/>
<text transform="translate(241.40 218.90) scale(0.930 1)" font-size="6.34">WR 256</text>
<line x1="224.90" y1="225.00" x2="236.70" y2="225.00" stroke="#42dabd" stroke-width="1.30"/>
<text transform="translate(241.40 227.30) scale(0.930 1)" font-size="6.34">WR 512</text>
<line x1="224.90" y1="233.40" x2="236.70" y2="233.40" stroke="#a0ef5c" stroke-width="1.30"/>
<text transform="translate(241.40 235.70) scale(0.930 1)" font-size="6.34">WR 1024</text>
<line x1="224.90" y1="241.80" x2="236.70" y2="241.80" stroke="#fdb85c" stroke-width="1.30"/>
<text transform="translate(241.40 244.10) scale(0.930 1)" font-size="6.34">WR 2048</text>
<line x1="224.90" y1="250.20" x2="236.70" y2="250.20" stroke="#f0683f" stroke-width="1.30"/>
<text transform="translate(241.40 252.50) scale(0.930 1)" font-size="6.34">WR 4096</text>
<line x1="224.90" y1="258.60" x2="236.70" y2="258.60" stroke="#574a68" stroke-width="1.20" stroke-dasharray="3.2 1.3"/>
<text transform="translate(241.40 260.90) scale(0.930 1)" font-size="6.34">128</text>
<line x1="224.90" y1="267.00" x2="236.70" y2="267.00" stroke="#5a8ff2" stroke-width="1.20" stroke-dasharray="3.2 1.3"/>
<text transform="translate(241.40 269.30) scale(0.930 1)" font-size="6.34">256</text>
<line x1="224.90" y1="275.40" x2="236.70" y2="275.40" stroke="#42dabd" stroke-width="1.20" stroke-dasharray="3.2 1.3"/>
<text transform="translate(241.40 277.70) scale(0.930 1)" font-size="6.34">512</text>
<line x1="224.90" y1="283.80" x2="236.70" y2="283.80" stroke="#a0ef5c" stroke-width="1.20" stroke-dasharray="3.2 1.3"/>
<text transform="translate(241.40 286.10) scale(0.930 1)" font-size="6.34">1024</text>
<line x1="224.90" y1="292.20" x2="236.70" y2="292.20" stroke="#fdb85c" stroke-width="1.20" stroke-dasharray="3.2 1.3"/>
<text transform="translate(241.40 294.50) scale(0.930 1)" font-size="6.34">2048</text>
<line x1="224.90" y1="300.60" x2="236.70" y2="300.60" stroke="#f0683f" stroke-width="1.20" stroke-dasharray="3.2 1.3"/>
<text transform="translate(241.40 302.90) scale(0.930 1)" font-size="6.34">4096</text>
<text class="cap" x="136.00" y="358.80" font-size="9.80" text-anchor="middle">(<tspan font-weight="bold" font-size="9.40">c</tspan>)</text>
<clipPath id="clipd"><rect x="291.80" y="199.70" width="189.80" height="123.40"/></clipPath>
<g clip-path="url(#clipd)" fill="none" stroke-linejoin="round">
<polyline points="291.80,283.82 297.38,286.62 302.96,288.92 308.55,289.43 314.13,288.92 319.71,288.41 325.29,289.94 330.88,291.21 336.46,291.21 342.04,291.72 347.62,292.24 353.21,293.51 358.79,294.02 364.37,294.53 369.95,294.53 375.54,295.29 381.12,294.78 386.70,295.55 392.28,295.81 397.86,295.81 403.45,296.06 409.03,296.06 414.61,296.82 420.19,296.06 425.78,296.82 431.36,296.82 436.94,298.10 442.52,298.10 448.11,299.12 453.69,298.36 459.27,299.12 464.85,298.10 470.44,298.36 476.02,299.12 481.60,299.12" stroke="#574a68" stroke-width="1.20"/>
<polyline points="291.80,285.61 297.38,289.94 302.96,292.24 308.55,293.00 314.13,293.51 319.71,293.51 325.29,293.51 330.88,294.53 336.46,295.81 342.04,296.06 347.62,296.82 353.21,297.59 358.79,298.10 364.37,298.36 369.95,299.12 375.54,299.88 381.12,300.14 386.70,301.42 392.28,302.18 397.86,302.94 403.45,302.94 409.03,302.94 414.61,303.33 420.19,303.71 425.78,303.71 431.36,303.71 436.94,304.22 442.52,304.73 448.11,303.71 453.69,305.24 459.27,305.62 464.85,306.00 470.44,306.00 476.02,306.00 481.60,306.00" stroke="#5a8ff2" stroke-width="1.20"/>
<polyline points="291.80,287.13 297.38,293.51 302.96,295.81 308.55,296.06 314.13,296.82 319.71,297.59 325.29,298.10 330.88,298.36 336.46,299.12 342.04,300.14 347.62,300.65 353.21,301.42 358.79,301.42 364.37,302.18 369.95,302.44 375.54,302.94 381.12,303.20 386.70,303.71 392.28,304.86 397.86,306.00 403.45,306.26 409.03,306.51 414.61,306.77 420.19,307.02 425.78,307.28 431.36,307.53 436.94,307.92 442.52,308.30 448.11,308.56 453.69,308.81 459.27,309.06 464.85,309.32 470.44,309.57 476.02,309.83 481.60,309.83" stroke="#42dabd" stroke-width="1.20"/>
<polyline points="291.80,288.92 297.38,295.81 302.96,299.12 308.55,300.14 314.13,300.65 319.71,301.42 325.29,302.18 330.88,302.44 336.46,302.94 342.04,303.71 347.62,304.22 353.21,304.73 358.79,304.73 364.37,305.24 369.95,306.00 375.54,306.00 381.12,306.51 386.70,306.51 392.28,307.41 397.86,308.30 403.45,308.81 409.03,309.32 414.61,309.96 420.19,310.59 425.78,310.85 431.36,311.11 436.94,311.36 442.52,311.62 448.11,311.87 453.69,312.12 459.27,311.11 464.85,312.89 470.44,313.14 476.02,313.40 481.60,313.40" stroke="#a0ef5c" stroke-width="1.20"/>
<polyline points="291.80,291.21 297.38,299.12 302.96,302.44 308.55,303.71 314.13,304.73 319.71,305.24 325.29,306.00 330.88,306.51 336.46,307.02 342.04,307.53 347.62,308.30 353.21,308.81 358.79,308.81 364.37,309.32 369.95,309.83 375.54,309.83 381.12,310.34 386.70,310.59 392.28,311.11 397.86,311.62 403.45,312.25 409.03,312.89 414.61,313.40 420.19,313.91 425.78,314.42 431.36,314.93 436.94,314.93 442.52,314.93 448.11,315.31 453.69,315.69 459.27,315.95 464.85,316.20 470.44,316.46 476.02,316.71 481.60,316.20" stroke="#fdb85c" stroke-width="1.20"/>
<polyline points="291.80,293.51 297.38,301.42 302.96,304.73 308.55,306.00 314.13,306.51 319.71,307.02 325.29,307.53 330.88,308.30 336.46,308.30 342.04,308.81 347.62,309.83 353.21,310.59 358.79,311.11 364.37,311.62 369.95,312.12 375.54,312.89 381.12,312.89 386.70,312.89 392.28,313.14 397.86,313.40 403.45,313.91 409.03,314.42 414.61,315.69 420.19,314.42 425.78,314.68 431.36,314.93 436.94,316.20 442.52,316.71 448.11,316.46 453.69,316.20 459.27,316.71 464.85,317.22 470.44,316.97 476.02,316.71 481.60,316.71" stroke="#f0683f" stroke-width="1.20"/>
<polyline points="291.80,287.64 297.38,293.51 302.96,296.82 308.55,299.12 314.13,300.14 319.71,301.42 325.29,302.44 330.88,302.94 336.46,303.71 342.04,303.71 347.62,304.22 353.21,304.73 358.79,304.73 364.37,304.98 369.95,305.75 375.54,306.26 381.12,306.77 386.70,307.02 392.28,306.51 397.86,306.00 403.45,304.73 409.03,302.94 414.61,302.18 420.19,300.14 425.78,298.10 431.36,296.06 436.94,293.51 442.52,292.24 448.11,288.92 453.69,287.64 459.27,285.61 464.85,282.03 470.44,281.01 476.02,278.72 481.60,275.40" stroke="#574a68" stroke-width="1.25" stroke-dasharray="3.1 1.4"/>
<polyline points="291.80,288.92 297.38,295.81 302.96,299.88 308.55,302.18 314.13,302.94 319.71,304.22 325.29,304.73 330.88,305.24 336.46,306.00 342.04,306.00 347.62,306.51 353.21,306.51 358.79,306.51 364.37,307.02 369.95,306.51 375.54,306.00 381.12,304.73 386.70,303.71 392.28,301.42 397.86,299.12 403.45,296.82 409.03,293.51 414.61,289.94 420.19,285.61 425.78,282.03 431.36,278.72 436.94,274.89 442.52,270.81 448.11,266.22 453.69,261.63 459.27,257.56 464.85,254.75 470.44,250.41 476.02,245.82 481.60,243.53" stroke="#5a8ff2" stroke-width="1.25" stroke-dasharray="3.1 1.4"/>
<polyline points="291.80,289.94 297.38,298.10 302.96,301.42 308.55,303.71 314.13,304.73 319.71,306.00 325.29,306.51 330.88,307.02 336.46,307.02 342.04,307.02 347.62,306.51 353.21,306.51 358.79,306.00 364.37,304.73 369.95,303.20 375.54,301.42 381.12,298.10 386.70,294.02 392.28,290.45 397.86,287.39 403.45,284.07 409.03,280.25 414.61,273.11 420.19,266.22 425.78,260.36 431.36,256.02 436.94,252.20 442.52,247.10 448.11,242.25 453.69,237.41 459.27,232.82 464.85,229.76 470.44,226.19 476.02,221.85 481.60,219.56" stroke="#42dabd" stroke-width="1.25" stroke-dasharray="3.1 1.4"/>
<polyline points="291.80,291.21 297.38,300.14 302.96,303.71 308.55,305.24 314.13,306.51 319.71,307.02 325.29,307.02 330.88,307.02 336.46,306.51 342.04,306.00 347.62,304.73 353.21,302.44 358.79,298.10 364.37,293.51 369.95,288.92 375.54,284.33 381.12,279.74 386.70,276.43 392.28,270.81 397.86,264.95 403.45,259.34 409.03,253.73 414.61,248.12 420.19,243.53 425.78,236.64 431.36,232.06 436.94,227.46 442.52,222.88 448.11,220.83 453.69,216.25 459.27,213.95 464.85,213.95 470.44,213.44 476.02,211.65 481.60,208.34" stroke="#a0ef5c" stroke-width="1.25" stroke-dasharray="3.1 1.4"/>
<polyline points="291.80,292.24 297.38,301.42 302.96,305.24 308.55,307.02 314.13,307.53 319.71,307.53 325.29,307.02 330.88,305.75 336.46,303.71 342.04,301.16 347.62,296.82 353.21,291.72 358.79,284.84 364.37,278.97 369.95,272.09 375.54,266.22 381.12,258.57 386.70,250.92 392.28,243.53 397.86,238.94 403.45,236.64 409.03,230.52 414.61,227.97 420.19,225.68 425.78,224.15 431.36,222.62 436.94,220.32 442.52,218.80 448.11,218.28 453.69,213.95 459.27,208.34 464.85,211.40 470.44,211.91 476.02,210.12 481.60,206.81" stroke="#fdb85c" stroke-width="1.25" stroke-dasharray="3.1 1.4"/>
<polyline points="291.80,293.51 297.38,302.44 302.96,306.00 308.55,307.02 314.13,307.02 319.71,306.51 325.29,304.73 330.88,301.93 336.46,298.10 342.04,291.72 347.62,281.52 353.21,273.88 358.79,269.28 364.37,264.95 369.95,258.57 375.54,249.65 381.12,247.86 386.70,240.47 392.28,242.25 397.86,236.64 403.45,238.43 409.03,231.29 414.61,229.25 420.19,227.21 425.78,225.43 431.36,222.88 436.94,220.83 442.52,218.80 448.11,220.32 453.69,219.05 459.27,216.50 464.85,213.44 470.44,212.16 476.02,213.69 481.60,215.74" stroke="#f0683f" stroke-width="1.25" stroke-dasharray="3.1 1.4"/>
</g>
<rect x="291.80" y="199.70" width="189.80" height="123.40" fill="none" stroke="#6a6a6a" stroke-width="0.90"/>
<line x1="314.13" y1="323.10" x2="314.13" y2="325.30" stroke="#6a6a6a" stroke-width="0.8"/>
<text x="314.13" y="332.10" font-size="6.30" text-anchor="middle">5</text>
<line x1="342.04" y1="323.10" x2="342.04" y2="325.30" stroke="#6a6a6a" stroke-width="0.8"/>
<text x="342.04" y="332.10" font-size="6.30" text-anchor="middle">10</text>
<line x1="369.95" y1="323.10" x2="369.95" y2="325.30" stroke="#6a6a6a" stroke-width="0.8"/>
<text x="369.95" y="332.10" font-size="6.30" text-anchor="middle">15</text>
<line x1="397.86" y1="323.10" x2="397.86" y2="325.30" stroke="#6a6a6a" stroke-width="0.8"/>
<text x="397.86" y="332.10" font-size="6.30" text-anchor="middle">20</text>
<line x1="425.78" y1="323.10" x2="425.78" y2="325.30" stroke="#6a6a6a" stroke-width="0.8"/>
<text x="425.78" y="332.10" font-size="6.30" text-anchor="middle">25</text>
<line x1="453.69" y1="323.10" x2="453.69" y2="325.30" stroke="#6a6a6a" stroke-width="0.8"/>
<text x="453.69" y="332.10" font-size="6.30" text-anchor="middle">30</text>
<line x1="481.60" y1="323.10" x2="481.60" y2="325.30" stroke="#6a6a6a" stroke-width="0.8"/>
<text x="481.60" y="332.10" font-size="6.30" text-anchor="middle">35</text>
<line x1="289.60" y1="303.20" x2="291.80" y2="303.20" stroke="#6a6a6a" stroke-width="0.8"/>
<text x="287.60" y="305.50" font-size="6.40" text-anchor="end">3</text>
<line x1="289.60" y1="277.70" x2="291.80" y2="277.70" stroke="#6a6a6a" stroke-width="0.8"/>
<text x="287.60" y="280.00" font-size="6.40" text-anchor="end">4</text>
<line x1="289.60" y1="252.20" x2="291.80" y2="252.20" stroke="#6a6a6a" stroke-width="0.8"/>
<text x="287.60" y="254.50" font-size="6.40" text-anchor="end">5</text>
<line x1="289.60" y1="226.70" x2="291.80" y2="226.70" stroke="#6a6a6a" stroke-width="0.8"/>
<text x="287.60" y="229.00" font-size="6.40" text-anchor="end">6</text>
<line x1="289.60" y1="201.20" x2="291.80" y2="201.20" stroke="#6a6a6a" stroke-width="0.8"/>
<text x="287.60" y="203.50" font-size="6.40" text-anchor="end">7</text>
<text x="386.70" y="339.50" font-size="6.00" text-anchor="middle">epoch</text>
<text transform="translate(278.90 262.00) rotate(-90)" x="0" y="2.10" font-size="5.90" text-anchor="middle">loss</text>
<text x="386.70" y="196.30" font-size="7.40" text-anchor="middle">model test loss (CIFAR-100)</text>
<rect x="494.20" y="202.30" width="46.00" height="104.20" rx="0.8" fill="#fff" stroke="#dcdcdc" stroke-width="0.8"/>
<line x1="495.80" y1="207.40" x2="507.60" y2="207.40" stroke="#574a68" stroke-width="1.30"/>
<text transform="translate(512.30 209.70) scale(0.930 1)" font-size="6.34">WR 128</text>
<line x1="495.80" y1="215.91" x2="507.60" y2="215.91" stroke="#5a8ff2" stroke-width="1.30"/>
<text transform="translate(512.30 218.21) scale(0.930 1)" font-size="6.34">WR 256</text>
<line x1="495.80" y1="224.42" x2="507.60" y2="224.42" stroke="#42dabd" stroke-width="1.30"/>
<text transform="translate(512.30 226.72) scale(0.930 1)" font-size="6.34">WR 512</text>
<line x1="495.80" y1="232.93" x2="507.60" y2="232.93" stroke="#a0ef5c" stroke-width="1.30"/>
<text transform="translate(512.30 235.23) scale(0.930 1)" font-size="6.34">WR 1024</text>
<line x1="495.80" y1="241.44" x2="507.60" y2="241.44" stroke="#fdb85c" stroke-width="1.30"/>
<text transform="translate(512.30 243.74) scale(0.930 1)" font-size="6.34">WR 2048</text>
<line x1="495.80" y1="249.95" x2="507.60" y2="249.95" stroke="#f0683f" stroke-width="1.30"/>
<text transform="translate(512.30 252.25) scale(0.930 1)" font-size="6.34">WR 4096</text>
<line x1="495.80" y1="258.45" x2="507.60" y2="258.45" stroke="#574a68" stroke-width="1.20" stroke-dasharray="3.2 1.3"/>
<text transform="translate(512.30 260.75) scale(0.930 1)" font-size="6.34">128</text>
<line x1="495.80" y1="266.96" x2="507.60" y2="266.96" stroke="#5a8ff2" stroke-width="1.20" stroke-dasharray="3.2 1.3"/>
<text transform="translate(512.30 269.26) scale(0.930 1)" font-size="6.34">256</text>
<line x1="495.80" y1="275.47" x2="507.60" y2="275.47" stroke="#42dabd" stroke-width="1.20" stroke-dasharray="3.2 1.3"/>
<text transform="translate(512.30 277.77) scale(0.930 1)" font-size="6.34">512</text>
<line x1="495.80" y1="283.98" x2="507.60" y2="283.98" stroke="#a0ef5c" stroke-width="1.20" stroke-dasharray="3.2 1.3"/>
<text transform="translate(512.30 286.28) scale(0.930 1)" font-size="6.34">1024</text>
<line x1="495.80" y1="292.49" x2="507.60" y2="292.49" stroke="#fdb85c" stroke-width="1.20" stroke-dasharray="3.2 1.3"/>
<text transform="translate(512.30 294.79) scale(0.930 1)" font-size="6.34">2048</text>
<line x1="495.80" y1="301.00" x2="507.60" y2="301.00" stroke="#f0683f" stroke-width="1.20" stroke-dasharray="3.2 1.3"/>
<text transform="translate(512.30 303.30) scale(0.930 1)" font-size="6.34">4096</text>
<text class="cap" x="408.00" y="358.80" font-size="9.80" text-anchor="middle">(<tspan font-weight="bold" font-size="9.40">d</tspan>)</text>
<clipPath id="clipe"><rect x="25.10" y="386.30" width="186.00" height="120.90"/></clipPath>
<g clip-path="url(#clipe)" fill="none" stroke-linejoin="round">
<polyline points="25.10,393.33 30.57,426.16 36.04,441.57 41.51,448.94 46.98,453.63 52.45,458.32 57.92,458.32 63.39,458.32 68.86,463.68 74.34,463.01 79.81,466.36 85.28,464.01 90.75,463.21 96.22,465.02 101.69,465.69 107.16,457.65 112.63,467.03 118.10,471.72 123.57,472.39 129.04,471.72 134.51,470.38 139.98,472.39 145.45,473.06 150.92,475.07 156.39,477.08 161.86,472.39 167.34,477.08 172.81,477.08 178.28,477.08 183.75,481.77 189.22,479.76 194.69,479.76 200.16,483.11 205.63,481.77 211.10,481.77" stroke="#574a68" stroke-width="1.20"/>
<polyline points="25.10,420.13 30.57,439.56 36.04,450.95 41.51,456.31 46.98,453.63 52.45,462.34 57.92,460.33 63.39,463.01 68.86,466.69 74.34,467.03 79.81,469.71 85.28,471.72 90.75,469.38 96.22,475.07 101.69,472.06 107.16,473.73 112.63,477.75 118.10,478.42 123.57,477.08 129.04,479.09 134.51,481.10 139.98,478.42 145.45,479.76 150.92,479.09 156.39,482.44 161.86,481.77 167.34,482.44 172.81,486.46 178.28,483.11 183.75,485.79 189.22,483.78 194.69,486.46 200.16,487.13 205.63,486.46 211.10,489.14" stroke="#5a8ff2" stroke-width="1.20"/>
<polyline points="25.10,422.81 30.57,446.93 36.04,456.98 41.51,461.00 46.98,462.00 52.45,466.36 57.92,469.04 63.39,471.05 68.86,471.05 74.34,473.06 79.81,473.73 85.28,476.01 90.75,476.41 96.22,476.81 101.69,479.09 107.16,479.76 112.63,480.43 118.10,482.44 123.57,483.11 129.04,482.44 134.51,483.78 139.98,485.12 145.45,483.78 150.92,485.79 156.39,485.79 161.86,489.14 167.34,487.13 172.81,488.47 178.28,489.14 183.75,489.81 189.22,490.48 194.69,490.48 200.16,487.80 205.63,487.13 211.10,490.48" stroke="#42dabd" stroke-width="1.20"/>
<polyline points="25.10,424.82 30.57,452.29 36.04,460.00 41.51,463.21 46.98,465.69 52.45,465.02 57.92,467.70 63.39,473.06 68.86,474.40 74.34,476.81 79.81,477.75 85.28,479.76 90.75,482.44 96.22,483.98 101.69,484.78 107.16,485.12 112.63,485.79 118.10,485.12 123.57,487.13 129.04,489.14 134.51,490.48 139.98,489.14 145.45,485.79 150.92,490.48 156.39,491.15 161.86,491.15 167.34,491.82 172.81,493.16 178.28,493.83 183.75,494.50 189.22,492.49 194.69,494.50 200.16,495.17 205.63,496.51 211.10,495.84" stroke="#a0ef5c" stroke-width="1.20"/>
<polyline points="25.10,429.51 30.57,460.00 36.04,467.70 41.51,471.05 46.98,470.38 52.45,469.04 57.92,475.07 63.39,479.09 68.86,481.77 74.34,482.44 79.81,483.98 85.28,484.78 90.75,486.46 96.22,485.59 101.69,488.81 107.16,488.47 112.63,490.48 118.10,489.81 123.57,488.47 129.04,489.81 134.51,491.15 139.98,492.49 145.45,493.16 150.92,494.50 156.39,495.17 161.86,493.83 167.34,495.17 172.81,496.51 178.28,495.17 183.75,496.51 189.22,495.84 194.69,497.18 200.16,497.85 205.63,497.18 211.10,497.85" stroke="#fdb85c" stroke-width="1.20"/>
<polyline points="25.10,431.52 30.57,460.00 36.04,461.00 41.51,467.70 46.98,476.01 52.45,476.01 57.92,478.42 63.39,480.03 68.86,481.77 74.34,483.11 79.81,484.78 85.28,485.79 90.75,487.13 96.22,488.81 101.69,490.08 107.16,490.48 112.63,491.15 118.10,491.15 123.57,493.16 129.04,495.17 134.51,495.17 139.98,494.50 145.45,495.17 150.92,495.84 156.39,495.17 161.86,496.51 167.34,495.84 172.81,497.18 178.28,497.85 183.75,497.85 189.22,497.85 194.69,498.52 200.16,498.52 205.63,498.52 211.10,498.52" stroke="#f0683f" stroke-width="1.20"/>
<polyline points="25.10,406.73 30.57,434.20 36.04,458.32 41.51,471.05 46.98,481.77 52.45,490.48 57.92,496.78 63.39,498.72 68.86,500.19 74.34,500.53 79.81,500.54 85.28,500.56 90.75,500.57 96.22,500.58 101.69,500.60 107.16,500.61 112.63,500.62 118.10,500.64 123.57,500.65 129.04,500.66 134.51,500.68 139.98,500.69 145.45,500.70 150.92,500.72 156.39,500.73 161.86,500.74 167.34,500.76 172.81,500.77 178.28,500.78 183.75,500.80 189.22,500.81 194.69,500.82 200.16,500.84 205.63,500.85 211.10,500.87" stroke="#574a68" stroke-width="1.25" stroke-dasharray="3.1 1.4"/>
<polyline points="25.10,408.74 30.57,435.54 36.04,460.00 41.51,474.40 46.98,485.79 52.45,492.82 57.92,496.78 63.39,498.72 68.86,497.85 74.34,500.53 79.81,500.54 85.28,500.54 90.75,500.55 96.22,500.55 101.69,500.56 107.16,500.56 112.63,500.57 118.10,500.57 123.57,500.58 129.04,500.58 134.51,500.59 139.98,500.59 145.45,500.60 150.92,500.61 156.39,500.61 161.86,500.62 167.34,500.62 172.81,500.63 178.28,500.63 183.75,500.64 189.22,500.64 194.69,500.65 200.16,500.65 205.63,500.66 211.10,500.66" stroke="#5a8ff2" stroke-width="1.25" stroke-dasharray="3.1 1.4"/>
<polyline points="25.10,418.12 30.57,459.66 36.04,477.75 41.51,488.81 46.98,495.17 52.45,498.52 57.92,500.53 63.39,500.53 68.86,500.53 74.34,500.53 79.81,500.53 85.28,500.53 90.75,497.18 96.22,500.53 101.69,500.54 107.16,500.54 112.63,500.55 118.10,500.56 123.57,500.56 129.04,500.57 134.51,500.57 139.98,500.58 145.45,500.59 150.92,500.59 156.39,500.60 161.86,500.61 167.34,500.61 172.81,500.62 178.28,500.63 183.75,500.63 189.22,500.64 194.69,500.64 200.16,500.65 205.63,500.66 211.10,500.66" stroke="#42dabd" stroke-width="1.25" stroke-dasharray="3.1 1.4"/>
<polyline points="25.10,421.47 30.57,463.68 36.04,482.44 41.51,493.63 46.98,497.85 52.45,500.53 57.92,500.53 63.39,500.54 68.86,500.54 74.34,500.55 79.81,500.55 85.28,500.56 90.75,500.56 96.22,500.57 101.69,500.57 107.16,500.58 112.63,500.58 118.10,500.59 123.57,500.59 129.04,500.59 134.51,500.60 139.98,500.60 145.45,500.61 150.92,500.61 156.39,500.62 161.86,500.62 167.34,500.63 172.81,500.63 178.28,500.64 183.75,500.64 189.22,500.65 194.69,500.65 200.16,500.65 205.63,500.66 211.10,500.66" stroke="#a0ef5c" stroke-width="1.25" stroke-dasharray="3.1 1.4"/>
<polyline points="25.10,429.51 30.57,471.05 36.04,488.81 41.51,496.78 46.98,500.53 52.45,500.53 57.92,500.53 63.39,500.53 68.86,496.51 74.34,498.52 79.81,498.85 85.28,499.19 90.75,499.52 96.22,499.86 101.69,500.19 107.16,500.53 112.63,497.85 118.10,500.53 123.57,500.54 129.04,500.55 134.51,500.55 139.98,500.56 145.45,500.57 150.92,500.58 156.39,500.59 161.86,500.59 167.34,500.60 172.81,500.61 178.28,500.62 183.75,500.62 189.22,500.63 194.69,500.64 200.16,500.65 205.63,500.66 211.10,500.66" stroke="#fdb85c" stroke-width="1.25" stroke-dasharray="3.1 1.4"/>
<polyline points="25.10,432.86 30.57,473.73 36.04,491.15 41.51,498.52 46.98,500.87 52.45,500.87 57.92,500.87 63.39,500.87 68.86,500.87 74.34,500.87 79.81,500.87 85.28,500.87 90.75,500.87 96.22,500.87 101.69,500.87 107.16,500.87 112.63,500.87 118.10,500.87 123.57,500.87 129.04,500.87 134.51,500.87 139.98,500.87 145.45,500.87 150.92,500.87 156.39,500.87 161.86,500.87 167.34,500.87 172.81,500.87 178.28,500.87 183.75,500.87 189.22,500.87 194.69,500.87 200.16,500.87 205.63,500.87 211.10,500.87" stroke="#f0683f" stroke-width="1.25" stroke-dasharray="3.1 1.4"/>
</g>
<rect x="25.10" y="386.30" width="186.00" height="120.90" fill="none" stroke="#6a6a6a" stroke-width="0.90"/>
<line x1="46.98" y1="507.20" x2="46.98" y2="509.40" stroke="#6a6a6a" stroke-width="0.8"/>
<text x="46.98" y="516.20" font-size="6.30" text-anchor="middle">5</text>
<line x1="74.34" y1="507.20" x2="74.34" y2="509.40" stroke="#6a6a6a" stroke-width="0.8"/>
<text x="74.34" y="516.20" font-size="6.30" text-anchor="middle">10</text>
<line x1="101.69" y1="507.20" x2="101.69" y2="509.40" stroke="#6a6a6a" stroke-width="0.8"/>
<text x="101.69" y="516.20" font-size="6.30" text-anchor="middle">15</text>
<line x1="129.04" y1="507.20" x2="129.04" y2="509.40" stroke="#6a6a6a" stroke-width="0.8"/>
<text x="129.04" y="516.20" font-size="6.30" text-anchor="middle">20</text>
<line x1="156.39" y1="507.20" x2="156.39" y2="509.40" stroke="#6a6a6a" stroke-width="0.8"/>
<text x="156.39" y="516.20" font-size="6.30" text-anchor="middle">25</text>
<line x1="183.75" y1="507.20" x2="183.75" y2="509.40" stroke="#6a6a6a" stroke-width="0.8"/>
<text x="183.75" y="516.20" font-size="6.30" text-anchor="middle">30</text>
<line x1="211.10" y1="507.20" x2="211.10" y2="509.40" stroke="#6a6a6a" stroke-width="0.8"/>
<text x="211.10" y="516.20" font-size="6.30" text-anchor="middle">35</text>
<line x1="22.90" y1="501.20" x2="25.10" y2="501.20" stroke="#6a6a6a" stroke-width="0.8"/>
<text x="20.90" y="503.50" font-size="6.40" text-anchor="end">0.0</text>
<line x1="22.90" y1="487.80" x2="25.10" y2="487.80" stroke="#6a6a6a" stroke-width="0.8"/>
<text x="20.90" y="490.10" font-size="6.40" text-anchor="end">0.2</text>
<line x1="22.90" y1="474.40" x2="25.10" y2="474.40" stroke="#6a6a6a" stroke-width="0.8"/>
<text x="20.90" y="476.70" font-size="6.40" text-anchor="end">0.4</text>
<line x1="22.90" y1="461.00" x2="25.10" y2="461.00" stroke="#6a6a6a" stroke-width="0.8"/>
<text x="20.90" y="463.30" font-size="6.40" text-anchor="end">0.6</text>
<line x1="22.90" y1="447.60" x2="25.10" y2="447.60" stroke="#6a6a6a" stroke-width="0.8"/>
<text x="20.90" y="449.90" font-size="6.40" text-anchor="end">0.8</text>
<line x1="22.90" y1="434.20" x2="25.10" y2="434.20" stroke="#6a6a6a" stroke-width="0.8"/>
<text x="20.90" y="436.50" font-size="6.40" text-anchor="end">1.0</text>
<line x1="22.90" y1="420.80" x2="25.10" y2="420.80" stroke="#6a6a6a" stroke-width="0.8"/>
<text x="20.90" y="423.10" font-size="6.40" text-anchor="end">1.2</text>
<line x1="22.90" y1="407.40" x2="25.10" y2="407.40" stroke="#6a6a6a" stroke-width="0.8"/>
<text x="20.90" y="409.70" font-size="6.40" text-anchor="end">1.4</text>
<line x1="22.90" y1="394.00" x2="25.10" y2="394.00" stroke="#6a6a6a" stroke-width="0.8"/>
<text x="20.90" y="396.30" font-size="6.40" text-anchor="end">1.6</text>
<text x="118.10" y="523.60" font-size="6.00" text-anchor="middle">epoch</text>
<text transform="translate(7.40 447.00) rotate(-90)" x="0" y="2.10" font-size="5.90" text-anchor="middle">loss</text>
<text x="118.10" y="382.90" font-size="7.57" text-anchor="middle">model train loss (Imagenette)</text>
<rect x="223.30" y="388.70" width="44.90" height="102.10" rx="0.8" fill="#fff" stroke="#dcdcdc" stroke-width="0.8"/>
<line x1="224.90" y1="393.20" x2="236.70" y2="393.20" stroke="#574a68" stroke-width="1.30"/>
<text transform="translate(241.40 395.50) scale(0.930 1)" font-size="6.34">WR 128</text>
<line x1="224.90" y1="401.60" x2="236.70" y2="401.60" stroke="#5a8ff2" stroke-width="1.30"/>
<text transform="translate(241.40 403.90) scale(0.930 1)" font-size="6.34">WR 256</text>
<line x1="224.90" y1="410.00" x2="236.70" y2="410.00" stroke="#42dabd" stroke-width="1.30"/>
<text transform="translate(241.40 412.30) scale(0.930 1)" font-size="6.34">WR 512</text>
<line x1="224.90" y1="418.40" x2="236.70" y2="418.40" stroke="#a0ef5c" stroke-width="1.30"/>
<text transform="translate(241.40 420.70) scale(0.930 1)" font-size="6.34">WR 1024</text>
<line x1="224.90" y1="426.80" x2="236.70" y2="426.80" stroke="#fdb85c" stroke-width="1.30"/>
<text transform="translate(241.40 429.10) scale(0.930 1)" font-size="6.34">WR 2048</text>
<line x1="224.90" y1="435.20" x2="236.70" y2="435.20" stroke="#f0683f" stroke-width="1.30"/>
<text transform="translate(241.40 437.50) scale(0.930 1)" font-size="6.34">WR 4096</text>
<line x1="224.90" y1="443.60" x2="236.70" y2="443.60" stroke="#574a68" stroke-width="1.20" stroke-dasharray="3.2 1.3"/>
<text transform="translate(241.40 445.90) scale(0.930 1)" font-size="6.34">128</text>
<line x1="224.90" y1="452.00" x2="236.70" y2="452.00" stroke="#5a8ff2" stroke-width="1.20" stroke-dasharray="3.2 1.3"/>
<text transform="translate(241.40 454.30) scale(0.930 1)" font-size="6.34">256</text>
<line x1="224.90" y1="460.40" x2="236.70" y2="460.40" stroke="#42dabd" stroke-width="1.20" stroke-dasharray="3.2 1.3"/>
<text transform="translate(241.40 462.70) scale(0.930 1)" font-size="6.34">512</text>
<line x1="224.90" y1="468.80" x2="236.70" y2="468.80" stroke="#a0ef5c" stroke-width="1.20" stroke-dasharray="3.2 1.3"/>
<text transform="translate(241.40 471.10) scale(0.930 1)" font-size="6.34">1024</text>
<line x1="224.90" y1="477.20" x2="236.70" y2="477.20" stroke="#fdb85c" stroke-width="1.20" stroke-dasharray="3.2 1.3"/>
<text transform="translate(241.40 479.50) scale(0.930 1)" font-size="6.34">2048</text>
<line x1="224.90" y1="485.60" x2="236.70" y2="485.60" stroke="#f0683f" stroke-width="1.20" stroke-dasharray="3.2 1.3"/>
<text transform="translate(241.40 487.90) scale(0.930 1)" font-size="6.34">4096</text>
<text class="cap" x="136.00" y="543.80" font-size="9.80" text-anchor="middle">(<tspan font-weight="bold" font-size="9.40">e</tspan>)</text>
<clipPath id="clipf"><rect x="297.10" y="386.00" width="185.70" height="120.90"/></clipPath>
<g clip-path="url(#clipf)" fill="none" stroke-linejoin="round">
<polyline points="297.10,471.67 302.56,483.88 308.02,486.33 313.49,488.42 318.95,489.82 324.41,490.87 329.87,491.91 335.33,492.61 340.79,493.66 346.26,494.36 351.72,495.05 357.18,495.40 362.64,495.40 368.10,495.75 373.56,495.75 379.03,490.87 384.49,496.10 389.95,496.45 395.41,496.80 400.87,497.15 406.34,497.26 411.80,497.38 417.26,497.50 422.72,497.38 428.18,497.26 433.64,497.15 439.11,498.02 444.57,498.89 450.03,498.89 455.49,498.89 460.95,499.59 466.41,500.29 471.88,500.64 477.34,500.99 482.80,500.29" stroke="#574a68" stroke-width="1.20"/>
<polyline points="297.10,479.35 302.56,485.28 308.02,487.38 313.49,489.12 318.95,490.52 324.41,491.91 329.87,492.96 335.33,493.66 340.79,494.36 346.26,495.05 351.72,495.40 357.18,495.75 362.64,496.10 368.10,496.45 373.56,496.45 379.03,496.45 384.49,496.80 389.95,497.15 395.41,497.32 400.87,497.50 406.34,496.62 411.80,495.75 417.26,496.62 422.72,497.50 428.18,498.19 433.64,498.89 439.11,498.02 444.57,497.15 450.03,498.02 455.49,498.89 460.95,498.19 466.41,497.50 471.88,498.19 477.34,498.89 482.80,497.15" stroke="#5a8ff2" stroke-width="1.20"/>
<polyline points="297.10,480.74 302.56,486.33 308.02,488.07 313.49,489.82 318.95,490.87 324.41,491.91 329.87,493.66 335.33,494.36 340.79,495.05 346.26,495.40 351.72,495.75 357.18,495.75 362.64,496.45 368.10,496.45 373.56,497.15 379.03,497.15 384.49,497.50 389.95,497.15 395.41,497.32 400.87,497.50 406.34,497.73 411.80,497.96 417.26,498.19 422.72,498.43 428.18,498.66 433.64,498.89 439.11,498.19 444.57,497.50 450.03,498.72 455.49,499.94 460.95,499.42 466.41,498.89 471.88,499.07 477.34,499.24 482.80,498.19" stroke="#42dabd" stroke-width="1.20"/>
<polyline points="297.10,481.79 302.56,486.68 308.02,489.12 313.49,490.52 318.95,491.21 324.41,492.61 329.87,492.96 335.33,494.36 340.79,495.05 346.26,495.40 351.72,495.75 357.18,496.45 362.64,497.50 368.10,497.15 373.56,496.45 379.03,497.15 384.49,497.50 389.95,497.50 395.41,496.97 400.87,496.45 406.34,497.03 411.80,497.61 417.26,498.19 422.72,497.38 428.18,496.57 433.64,495.75 439.11,496.10 444.57,496.45 450.03,495.93 455.49,495.40 460.95,495.93 466.41,496.45 471.88,496.10 477.34,495.75 482.80,495.40" stroke="#a0ef5c" stroke-width="1.20"/>
<polyline points="297.10,482.84 302.56,488.07 308.02,488.42 313.49,490.87 318.95,491.91 324.41,490.87 329.87,492.96 335.33,493.66 340.79,494.36 346.26,493.66 351.72,495.05 357.18,495.40 362.64,495.40 368.10,495.75 373.56,496.45 379.03,495.75 384.49,496.45 389.95,495.75 395.41,496.10 400.87,496.45 406.34,495.93 411.80,495.40 417.26,496.45 422.72,497.50 428.18,496.27 433.64,495.05 439.11,493.83 444.57,492.61 450.03,491.91 455.49,495.05 460.95,494.36 466.41,493.66 471.88,494.53 477.34,495.40 482.80,494.36" stroke="#fdb85c" stroke-width="1.20"/>
<polyline points="297.10,481.79 302.56,489.82 308.02,487.38 313.49,491.21 318.95,490.87 324.41,491.91 329.87,492.96 335.33,494.36 340.79,495.05 346.26,492.61 351.72,494.36 357.18,495.40 362.64,495.40 368.10,495.40 373.56,495.75 379.03,495.40 384.49,495.75 389.95,495.05 395.41,495.40 400.87,495.75 406.34,495.05 411.80,494.36 417.26,493.66 422.72,494.36 428.18,495.05 433.64,494.36 439.11,493.66 444.57,492.96 450.03,493.31 455.49,493.66 460.95,494.01 466.41,494.36 471.88,494.70 477.34,495.05 482.80,494.36" stroke="#f0683f" stroke-width="1.20"/>
<polyline points="297.10,477.25 302.56,483.88 308.02,485.28 313.49,483.19 318.95,478.65 324.41,475.16 329.87,469.23 335.33,459.11 340.79,456.66 346.26,457.71 351.72,450.03 357.18,452.13 362.64,446.54 368.10,444.45 373.56,443.75 379.03,443.75 384.49,440.96 389.95,436.42 395.41,431.88 400.87,426.30 406.34,421.41 411.80,418.27 417.26,415.48 422.72,412.34 428.18,410.25 433.64,408.50 439.11,406.41 444.57,404.66 450.03,402.57 455.49,401.17 460.95,399.43 466.41,397.68 471.88,396.63 477.34,395.24 482.80,394.19" stroke="#574a68" stroke-width="1.25" stroke-dasharray="3.1 1.4"/>
<polyline points="297.10,479.35 302.56,482.84 308.02,483.88 313.49,479.35 318.95,476.21 324.41,472.72 329.87,463.64 335.33,457.71 340.79,454.57 346.26,451.08 351.72,448.99 357.18,446.54 362.64,443.75 368.10,442.70 373.56,442.01 379.03,442.70 384.49,442.01 389.95,437.47 395.41,431.88 400.87,424.90 406.34,420.72 411.80,417.58 417.26,414.78 422.72,411.64 428.18,409.55 433.64,407.45 439.11,405.01 444.57,402.57 450.03,400.47 455.49,398.73 460.95,397.33 466.41,395.24 471.88,394.19 477.34,392.80 482.80,391.40" stroke="#5a8ff2" stroke-width="1.25" stroke-dasharray="3.1 1.4"/>
<polyline points="297.10,480.74 302.56,485.28 308.02,481.79 313.49,475.16 318.95,469.23 324.41,462.60 329.87,459.11 335.33,454.57 340.79,450.03 346.26,446.54 351.72,442.01 357.18,438.52 362.64,459.11 368.10,456.66 373.56,447.59 379.03,443.05 384.49,452.13 389.95,445.50 395.41,431.88 400.87,427.35 406.34,423.86 411.80,421.41 417.26,419.32 422.72,416.88 428.18,414.78 433.64,413.04 439.11,410.94 444.57,409.20 450.03,407.45 455.49,405.71 460.95,403.96 466.41,402.57 471.88,401.87 477.34,400.47 482.80,398.73" stroke="#42dabd" stroke-width="1.25" stroke-dasharray="3.1 1.4"/>
<polyline points="297.10,481.79 302.56,485.28 308.02,480.74 313.49,473.76 318.95,470.27 324.41,463.64 329.87,462.60 335.33,464.69 340.79,453.52 346.26,446.54 351.72,443.05 357.18,439.56 362.64,436.42 368.10,434.68 373.56,431.88 379.03,429.44 384.49,426.30 389.95,423.86 395.41,421.41 400.87,419.32 406.34,416.88 411.80,414.78 417.26,412.34 422.72,410.94 428.18,409.20 433.64,406.76 439.11,405.01 444.57,403.27 450.03,401.87 455.49,400.12 460.95,398.73 466.41,397.33 471.88,395.94 477.34,394.89 482.80,393.15" stroke="#a0ef5c" stroke-width="1.25" stroke-dasharray="3.1 1.4"/>
<polyline points="297.10,482.84 302.56,486.33 308.02,481.79 313.49,473.76 318.95,469.23 324.41,461.20 329.87,464.69 335.33,461.20 340.79,442.01 346.26,450.03 351.72,459.11 357.18,445.50 362.64,454.57 368.10,452.13 373.56,443.05 379.03,447.59 384.49,443.05 389.95,450.03 395.41,433.98 400.87,426.30 406.34,426.30 411.80,433.98 417.26,435.03 422.72,432.93 428.18,427.35 433.64,423.86 439.11,421.41 444.57,419.32 450.03,416.88 455.49,415.83 460.95,414.09 466.41,412.34 471.88,411.29 477.34,410.25 482.80,409.20" stroke="#fdb85c" stroke-width="1.25" stroke-dasharray="3.1 1.4"/>
<polyline points="297.10,483.88 302.56,487.38 308.02,482.84 313.49,475.16 318.95,472.72 324.41,461.20 329.87,462.60 335.33,455.62 340.79,462.60 346.26,457.71 351.72,453.52 357.18,445.50 362.64,451.08 368.10,445.50 373.56,450.03 379.03,444.10 384.49,440.96 389.95,435.37 395.41,432.93 400.87,430.84 406.34,429.09 411.80,427.35 417.26,425.60 422.72,423.86 428.18,422.11 433.64,420.37 439.11,419.32 444.57,417.58 450.03,416.18 455.49,415.48 460.95,414.09 466.41,413.04 471.88,411.64 477.34,410.94 482.80,410.25" stroke="#f0683f" stroke-width="1.25" stroke-dasharray="3.1 1.4"/>
</g>
<rect x="297.10" y="386.00" width="185.70" height="120.90" fill="none" stroke="#6a6a6a" stroke-width="0.90"/>
<line x1="318.95" y1="506.90" x2="318.95" y2="509.10" stroke="#6a6a6a" stroke-width="0.8"/>
<text x="318.95" y="515.90" font-size="6.30" text-anchor="middle">5</text>
<line x1="346.26" y1="506.90" x2="346.26" y2="509.10" stroke="#6a6a6a" stroke-width="0.8"/>
<text x="346.26" y="515.90" font-size="6.30" text-anchor="middle">10</text>
<line x1="373.56" y1="506.90" x2="373.56" y2="509.10" stroke="#6a6a6a" stroke-width="0.8"/>
<text x="373.56" y="515.90" font-size="6.30" text-anchor="middle">15</text>
<line x1="400.87" y1="506.90" x2="400.87" y2="509.10" stroke="#6a6a6a" stroke-width="0.8"/>
<text x="400.87" y="515.90" font-size="6.30" text-anchor="middle">20</text>
<line x1="428.18" y1="506.90" x2="428.18" y2="509.10" stroke="#6a6a6a" stroke-width="0.8"/>
<text x="428.18" y="515.90" font-size="6.30" text-anchor="middle">25</text>
<line x1="455.49" y1="506.90" x2="455.49" y2="509.10" stroke="#6a6a6a" stroke-width="0.8"/>
<text x="455.49" y="515.90" font-size="6.30" text-anchor="middle">30</text>
<line x1="482.80" y1="506.90" x2="482.80" y2="509.10" stroke="#6a6a6a" stroke-width="0.8"/>
<text x="482.80" y="515.90" font-size="6.30" text-anchor="middle">35</text>
<line x1="294.90" y1="496.10" x2="297.10" y2="496.10" stroke="#6a6a6a" stroke-width="0.8"/>
<text x="292.90" y="498.40" font-size="6.40" text-anchor="end">1.0</text>
<line x1="294.90" y1="478.65" x2="297.10" y2="478.65" stroke="#6a6a6a" stroke-width="0.8"/>
<text x="292.90" y="480.95" font-size="6.40" text-anchor="end">1.5</text>
<line x1="294.90" y1="461.20" x2="297.10" y2="461.20" stroke="#6a6a6a" stroke-width="0.8"/>
<text x="292.90" y="463.50" font-size="6.40" text-anchor="end">2.0</text>
<line x1="294.90" y1="443.75" x2="297.10" y2="443.75" stroke="#6a6a6a" stroke-width="0.8"/>
<text x="292.90" y="446.05" font-size="6.40" text-anchor="end">2.5</text>
<line x1="294.90" y1="426.30" x2="297.10" y2="426.30" stroke="#6a6a6a" stroke-width="0.8"/>
<text x="292.90" y="428.60" font-size="6.40" text-anchor="end">3.0</text>
<line x1="294.90" y1="408.85" x2="297.10" y2="408.85" stroke="#6a6a6a" stroke-width="0.8"/>
<text x="292.90" y="411.15" font-size="6.40" text-anchor="end">3.5</text>
<line x1="294.90" y1="391.40" x2="297.10" y2="391.40" stroke="#6a6a6a" stroke-width="0.8"/>
<text x="292.90" y="393.70" font-size="6.40" text-anchor="end">4.0</text>
<text x="389.95" y="523.30" font-size="6.00" text-anchor="middle">epoch</text>
<text transform="translate(278.90 447.00) rotate(-90)" x="0" y="2.10" font-size="5.90" text-anchor="middle">loss</text>
<text x="389.95" y="382.60" font-size="7.58" text-anchor="middle">model test loss (Imagenette)</text>
<rect x="495.30" y="388.70" width="44.90" height="102.10" rx="0.8" fill="#fff" stroke="#dcdcdc" stroke-width="0.8"/>
<line x1="496.90" y1="393.20" x2="508.70" y2="393.20" stroke="#574a68" stroke-width="1.30"/>
<text transform="translate(513.40 395.50) scale(0.930 1)" font-size="6.34">WR 128</text>
<line x1="496.90" y1="401.60" x2="508.70" y2="401.60" stroke="#5a8ff2" stroke-width="1.30"/>
<text transform="translate(513.40 403.90) scale(0.930 1)" font-size="6.34">WR 256</text>
<line x1="496.90" y1="410.00" x2="508.70" y2="410.00" stroke="#42dabd" stroke-width="1.30"/>
<text transform="translate(513.40 412.30) scale(0.930 1)" font-size="6.34">WR 512</text>
<line x1="496.90" y1="418.40" x2="508.70" y2="418.40" stroke="#a0ef5c" stroke-width="1.30"/>
<text transform="translate(513.40 420.70) scale(0.930 1)" font-size="6.34">WR 1024</text>
<line x1="496.90" y1="426.80" x2="508.70" y2="426.80" stroke="#fdb85c" stroke-width="1.30"/>
<text transform="translate(513.40 429.10) scale(0.930 1)" font-size="6.34">WR 2048</text>
<line x1="496.90" y1="435.20" x2="508.70" y2="435.20" stroke="#f0683f" stroke-width="1.30"/>
<text transform="translate(513.40 437.50) scale(0.930 1)" font-size="6.34">WR 4096</text>
<line x1="496.90" y1="443.60" x2="508.70" y2="443.60" stroke="#574a68" stroke-width="1.20" stroke-dasharray="3.2 1.3"/>
<text transform="translate(513.40 445.90) scale(0.930 1)" font-size="6.34">128</text>
<line x1="496.90" y1="452.00" x2="508.70" y2="452.00" stroke="#5a8ff2" stroke-width="1.20" stroke-dasharray="3.2 1.3"/>
<text transform="translate(513.40 454.30) scale(0.930 1)" font-size="6.34">256</text>
<line x1="496.90" y1="460.40" x2="508.70" y2="460.40" stroke="#42dabd" stroke-width="1.20" stroke-dasharray="3.2 1.3"/>
<text transform="translate(513.40 462.70) scale(0.930 1)" font-size="6.34">512</text>
<line x1="496.90" y1="468.80" x2="508.70" y2="468.80" stroke="#a0ef5c" stroke-width="1.20" stroke-dasharray="3.2 1.3"/>
<text transform="translate(513.40 471.10) scale(0.930 1)" font-size="6.34">1024</text>
<line x1="496.90" y1="477.20" x2="508.70" y2="477.20" stroke="#fdb85c" stroke-width="1.20" stroke-dasharray="3.2 1.3"/>
<text transform="translate(513.40 479.50) scale(0.930 1)" font-size="6.34">2048</text>
<line x1="496.90" y1="485.60" x2="508.70" y2="485.60" stroke="#f0683f" stroke-width="1.20" stroke-dasharray="3.2 1.3"/>
<text transform="translate(513.40 487.90) scale(0.930 1)" font-size="6.34">4096</text>
<text class="cap" x="408.00" y="543.80" font-size="9.80" text-anchor="middle">(<tspan font-weight="bold" font-size="9.40">f</tspan>)</text>
</svg></body></html>
